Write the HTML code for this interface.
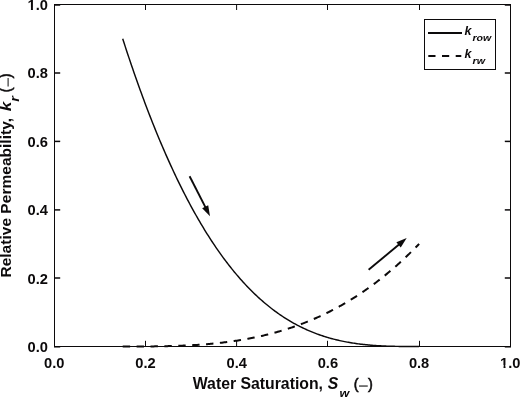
<!DOCTYPE html>
<html><head><meta charset="utf-8"><title>Relative permeability</title><style>
html,body{margin:0;padding:0;background:#fff;}
body{width:520px;height:397px;overflow:hidden;}
svg{display:block;}
text{font-family:"Liberation Sans",Arial,Helvetica,sans-serif;font-weight:bold;fill:#0c0a0b;}
text.n{font-weight:normal;stroke:#0c0a0b;stroke-width:0.55px;}
text.d{fill:#707070;}
</style></head><body>
<svg width="520" height="397" viewBox="0 0 520 397">
<rect width="520" height="397" fill="#fff"/>
<g stroke="#0c0a0b" stroke-width="1" fill="none">
<rect x="54.5" y="4.5" width="456" height="342"/>
<line x1="145.50" y1="346" x2="145.50" y2="340.8"/><line x1="145.50" y1="5" x2="145.50" y2="10"/><line x1="236.60" y1="346" x2="236.60" y2="340.8"/><line x1="236.60" y1="5" x2="236.60" y2="10"/><line x1="327.50" y1="346" x2="327.50" y2="340.8"/><line x1="327.50" y1="5" x2="327.50" y2="10"/><line x1="419.50" y1="346" x2="419.50" y2="340.8"/><line x1="419.50" y1="5" x2="419.50" y2="10"/><line x1="54" y1="5.00" x2="60.2" y2="5.00" stroke-width="1.5"/><line x1="511" y1="5.00" x2="504.8" y2="5.00" stroke-width="1.5"/><line x1="54" y1="73.00" x2="60.2" y2="73.00" stroke-width="1.5"/><line x1="511" y1="73.00" x2="504.8" y2="73.00" stroke-width="1.5"/><line x1="54" y1="141.40" x2="60.2" y2="141.40" stroke-width="1.5"/><line x1="511" y1="141.40" x2="504.8" y2="141.40" stroke-width="1.5"/><line x1="54" y1="209.90" x2="60.2" y2="209.90" stroke-width="1.5"/><line x1="511" y1="209.90" x2="504.8" y2="209.90" stroke-width="1.5"/><line x1="54" y1="278.00" x2="60.2" y2="278.00" stroke-width="1.5"/><line x1="511" y1="278.00" x2="504.8" y2="278.00" stroke-width="1.5"/><line x1="54" y1="346.80" x2="60.2" y2="346.80" stroke-width="1.5"/><line x1="511" y1="346.80" x2="504.8" y2="346.80" stroke-width="1.5"/>
</g>
<g font-size="15.5">
<text x="44.10" y="367.70" textLength="20.4" lengthAdjust="spacingAndGlyphs">0.0</text><text x="135.30" y="367.70" textLength="20.4" lengthAdjust="spacingAndGlyphs">0.2</text><text x="226.50" y="367.70" textLength="20.4" lengthAdjust="spacingAndGlyphs">0.4</text><text x="317.70" y="367.70" textLength="20.4" lengthAdjust="spacingAndGlyphs">0.6</text><text x="408.90" y="367.70" textLength="20.4" lengthAdjust="spacingAndGlyphs">0.8</text><clipPath id="c1x"><rect x="498.10" y="353.70" width="12.16" height="11.40"/><rect x="503.53" y="365.00" width="2.00" height="3.7"/></clipPath><text x="500.10" y="367.70" clip-path="url(#c1x)" textLength="8.16" lengthAdjust="spacingAndGlyphs">1</text><text x="508.26" y="367.70" textLength="12.24" lengthAdjust="spacingAndGlyphs">.0</text>
<text x="27.50" y="352.05" textLength="20.4" lengthAdjust="spacingAndGlyphs">0.0</text><text x="27.50" y="283.65" textLength="20.4" lengthAdjust="spacingAndGlyphs">0.2</text><text x="27.50" y="215.25" textLength="20.4" lengthAdjust="spacingAndGlyphs">0.4</text><text x="27.50" y="146.85" textLength="20.4" lengthAdjust="spacingAndGlyphs">0.6</text><text x="27.50" y="78.45" textLength="20.4" lengthAdjust="spacingAndGlyphs">0.8</text><clipPath id="c1y"><rect x="25.50" y="-3.95" width="12.16" height="11.40"/><rect x="30.93" y="7.35" width="2.00" height="3.7"/></clipPath><text x="27.50" y="10.05" clip-path="url(#c1y)" textLength="8.16" lengthAdjust="spacingAndGlyphs">1</text><text x="35.66" y="10.05" textLength="12.24" lengthAdjust="spacingAndGlyphs">.0</text>
</g>
<path d="M122.70,38.70 L123.94,42.55 L125.18,46.36 L126.42,50.15 L127.66,53.90 L128.90,57.62 L130.14,61.30 L131.38,64.96 L132.62,68.59 L133.86,72.18 L135.10,75.74 L136.34,79.27 L137.58,82.77 L138.82,86.24 L140.06,89.68 L141.30,93.09 L142.54,96.47 L143.78,99.82 L145.02,103.14 L146.26,106.43 L147.50,109.69 L148.74,112.92 L149.98,116.12 L151.22,119.29 L152.46,122.43 L153.70,125.54 L154.94,128.62 L156.18,131.68 L157.42,134.70 L158.66,137.70 L159.91,140.67 L161.15,143.61 L162.39,146.52 L163.63,149.40 L164.87,152.26 L166.11,155.09 L167.35,157.89 L168.59,160.66 L169.83,163.41 L171.07,166.13 L172.31,168.82 L173.55,171.49 L174.79,174.13 L176.03,176.74 L177.27,179.32 L178.51,181.88 L179.75,184.41 L180.99,186.92 L182.23,189.40 L183.47,191.86 L184.71,194.28 L185.95,196.69 L187.19,199.07 L188.43,201.42 L189.67,203.75 L190.91,206.05 L192.15,208.33 L193.39,210.58 L194.63,212.81 L195.87,215.01 L197.11,217.19 L198.35,219.34 L199.59,221.48 L200.83,223.58 L202.07,225.67 L203.31,227.73 L204.55,229.76 L205.79,231.77 L207.03,233.76 L208.27,235.73 L209.51,237.67 L210.75,239.59 L211.99,241.49 L213.23,243.37 L214.47,245.22 L215.71,247.05 L216.95,248.86 L218.19,250.64 L219.43,252.41 L220.67,254.15 L221.91,255.87 L223.15,257.57 L224.39,259.25 L225.63,260.90 L226.87,262.54 L228.11,264.16 L229.35,265.75 L230.59,267.32 L231.83,268.87 L233.07,270.41 L234.32,271.92 L235.56,273.41 L236.80,274.88 L238.04,276.33 L239.28,277.76 L240.52,279.18 L241.76,280.57 L243.00,281.94 L244.24,283.30 L245.48,284.63 L246.72,285.95 L247.96,287.25 L249.20,288.53 L250.44,289.79 L251.68,291.03 L252.92,292.25 L254.16,293.46 L255.40,294.64 L256.64,295.81 L257.88,296.97 L259.12,298.10 L260.36,299.22 L261.60,300.32 L262.84,301.40 L264.08,302.46 L265.32,303.51 L266.56,304.54 L267.80,305.56 L269.04,306.56 L270.28,307.54 L271.52,308.51 L272.76,309.46 L274.00,310.39 L275.24,311.31 L276.48,312.21 L277.72,313.10 L278.96,313.97 L280.20,314.82 L281.44,315.67 L282.68,316.49 L283.92,317.30 L285.16,318.10 L286.40,318.88 L287.64,319.65 L288.88,320.40 L290.12,321.14 L291.36,321.86 L292.60,322.57 L293.84,323.27 L295.08,323.95 L296.32,324.62 L297.56,325.28 L298.80,325.92 L300.04,326.55 L301.28,327.17 L302.52,327.77 L303.76,328.36 L305.00,328.94 L306.24,329.51 L307.48,330.06 L308.73,330.61 L309.97,331.14 L311.21,331.65 L312.45,332.16 L313.69,332.65 L314.93,333.14 L316.17,333.61 L317.41,334.07 L318.65,334.52 L319.89,334.96 L321.13,335.38 L322.37,335.80 L323.61,336.21 L324.85,336.60 L326.09,336.99 L327.33,337.36 L328.57,337.73 L329.81,338.08 L331.05,338.43 L332.29,338.77 L333.53,339.09 L334.77,339.41 L336.01,339.72 L337.25,340.02 L338.49,340.31 L339.73,340.59 L340.97,340.86 L342.21,341.13 L343.45,341.38 L344.69,341.63 L345.93,341.87 L347.17,342.10 L348.41,342.32 L349.65,342.54 L350.89,342.75 L352.13,342.95 L353.37,343.14 L354.61,343.33 L355.85,343.51 L357.09,343.68 L358.33,343.85 L359.57,344.01 L360.81,344.16 L362.05,344.31 L363.29,344.45 L364.53,344.58 L365.77,344.71 L367.01,344.83 L368.25,344.95 L369.49,345.06 L370.73,345.16 L371.97,345.26 L373.21,345.36 L374.45,345.45 L375.69,345.53 L376.93,345.61 L378.17,345.69 L379.41,345.76 L380.65,345.83 L381.89,345.89 L383.14,345.95 L384.38,346.01 L385.62,346.06 L386.86,346.10 L388.10,346.15 L389.34,346.19 L390.58,346.23 L391.82,346.26 L393.06,346.29 L394.30,346.32 L395.54,346.35 L396.78,346.37 L398.02,346.39 L399.26,346.41 L400.50,346.42 L401.74,346.44 L402.98,346.45 L404.22,346.46 L405.46,346.47 L406.70,346.48 L407.94,346.48 L409.18,346.49 L410.42,346.49 L411.66,346.50 L412.90,346.50 L414.14,346.50 L415.38,346.50 L416.62,346.50 L417.86,346.50 L419.10,346.50" fill="none" stroke="#0c0a0b" stroke-width="1.45"/>
<path d="M122.70,346.50 L123.94,346.50 L125.18,346.50 L126.42,346.50 L127.66,346.50 L128.90,346.50 L130.14,346.50 L131.38,346.50 L132.62,346.50 L133.86,346.49 L135.10,346.49 L136.34,346.49 L137.58,346.49 L138.82,346.48 L140.06,346.48 L141.30,346.47 L142.54,346.47 L143.78,346.46 L145.02,346.46 L146.26,346.45 L147.50,346.44 L148.74,346.43 L149.98,346.42 L151.22,346.41 L152.46,346.40 L153.70,346.38 L154.94,346.37 L156.18,346.35 L157.42,346.34 L158.66,346.32 L159.91,346.30 L161.15,346.28 L162.39,346.25 L163.63,346.23 L164.87,346.20 L166.11,346.18 L167.35,346.15 L168.59,346.12 L169.83,346.09 L171.07,346.05 L172.31,346.02 L173.55,345.98 L174.79,345.94 L176.03,345.90 L177.27,345.86 L178.51,345.82 L179.75,345.77 L180.99,345.72 L182.23,345.67 L183.47,345.62 L184.71,345.56 L185.95,345.50 L187.19,345.44 L188.43,345.38 L189.67,345.32 L190.91,345.25 L192.15,345.18 L193.39,345.11 L194.63,345.03 L195.87,344.96 L197.11,344.88 L198.35,344.79 L199.59,344.71 L200.83,344.62 L202.07,344.53 L203.31,344.44 L204.55,344.34 L205.79,344.24 L207.03,344.14 L208.27,344.03 L209.51,343.92 L210.75,343.81 L211.99,343.69 L213.23,343.58 L214.47,343.45 L215.71,343.33 L216.95,343.20 L218.19,343.07 L219.43,342.93 L220.67,342.79 L221.91,342.65 L223.15,342.51 L224.39,342.36 L225.63,342.20 L226.87,342.05 L228.11,341.88 L229.35,341.72 L230.59,341.55 L231.83,341.38 L233.07,341.20 L234.32,341.02 L235.56,340.84 L236.80,340.65 L238.04,340.45 L239.28,340.26 L240.52,340.06 L241.76,339.85 L243.00,339.64 L244.24,339.43 L245.48,339.21 L246.72,338.98 L247.96,338.76 L249.20,338.52 L250.44,338.29 L251.68,338.05 L252.92,337.80 L254.16,337.55 L255.40,337.29 L256.64,337.03 L257.88,336.77 L259.12,336.50 L260.36,336.22 L261.60,335.94 L262.84,335.66 L264.08,335.37 L265.32,335.07 L266.56,334.77 L267.80,334.46 L269.04,334.15 L270.28,333.84 L271.52,333.51 L272.76,333.19 L274.00,332.85 L275.24,332.51 L276.48,332.17 L277.72,331.82 L278.96,331.47 L280.20,331.11 L281.44,330.74 L282.68,330.37 L283.92,329.99 L285.16,329.60 L286.40,329.21 L287.64,328.82 L288.88,328.42 L290.12,328.01 L291.36,327.60 L292.60,327.18 L293.84,326.75 L295.08,326.32 L296.32,325.88 L297.56,325.43 L298.80,324.98 L300.04,324.52 L301.28,324.06 L302.52,323.59 L303.76,323.11 L305.00,322.63 L306.24,322.14 L307.48,321.64 L308.73,321.14 L309.97,320.62 L311.21,320.11 L312.45,319.58 L313.69,319.05 L314.93,318.51 L316.17,317.97 L317.41,317.42 L318.65,316.86 L319.89,316.29 L321.13,315.72 L322.37,315.14 L323.61,314.55 L324.85,313.95 L326.09,313.35 L327.33,312.74 L328.57,312.12 L329.81,311.50 L331.05,310.86 L332.29,310.22 L333.53,309.58 L334.77,308.92 L336.01,308.26 L337.25,307.59 L338.49,306.91 L339.73,306.22 L340.97,305.53 L342.21,304.83 L343.45,304.11 L344.69,303.40 L345.93,302.67 L347.17,301.94 L348.41,301.19 L349.65,300.44 L350.89,299.68 L352.13,298.92 L353.37,298.14 L354.61,297.36 L355.85,296.56 L357.09,295.76 L358.33,294.95 L359.57,294.13 L360.81,293.31 L362.05,292.47 L363.29,291.63 L364.53,290.77 L365.77,289.91 L367.01,289.04 L368.25,288.16 L369.49,287.27 L370.73,286.38 L371.97,285.47 L373.21,284.55 L374.45,283.63 L375.69,282.70 L376.93,281.75 L378.17,280.80 L379.41,279.84 L380.65,278.87 L381.89,277.89 L383.14,276.90 L384.38,275.90 L385.62,274.89 L386.86,273.87 L388.10,272.85 L389.34,271.81 L390.58,270.76 L391.82,269.71 L393.06,268.64 L394.30,267.56 L395.54,266.48 L396.78,265.38 L398.02,264.27 L399.26,263.16 L400.50,262.03 L401.74,260.89 L402.98,259.75 L404.22,258.59 L405.46,257.42 L406.70,256.25 L407.94,255.06 L409.18,253.86 L410.42,252.65 L411.66,251.43 L412.90,250.21 L414.14,248.97 L415.38,247.72 L416.62,246.45 L417.86,245.18 L419.10,243.90" fill="none" stroke="#0c0a0b" stroke-width="2" stroke-dasharray="7.4 6.5"/>
<line x1="189.6" y1="176.2" x2="205.64" y2="207.65" stroke="#0c0a0b" stroke-width="1.9"/><polygon points="210.0,216.2 202.16,208.30 208.21,205.21" fill="#0c0a0b"/>
<line x1="368.6" y1="269.8" x2="399.32" y2="244.24" stroke="#0c0a0b" stroke-width="1.9"/><polygon points="406.7,238.1 400.73,247.49 396.38,242.27" fill="#0c0a0b"/>
<rect x="424.5" y="19.5" width="71" height="50" fill="#fff" stroke="#0c0a0b" stroke-width="1"/>
<line x1="428" y1="33" x2="462" y2="33" stroke="#0c0a0b" stroke-width="2"/>
<line x1="428.3" y1="56" x2="461.3" y2="56" stroke="#0c0a0b" stroke-width="2" stroke-dasharray="7.2 6.5"/>
<text x="464.55" y="34.8" font-size="12.5" font-style="italic">k</text>
<text x="472.5" y="40.9" font-size="9.6" font-style="italic" textLength="18.8" lengthAdjust="spacingAndGlyphs">row</text>
<text x="464.55" y="58.2" font-size="12.5" font-style="italic">k</text>
<text x="472.5" y="64.3" font-size="9.6" font-style="italic" textLength="12.5" lengthAdjust="spacingAndGlyphs">rw</text>
<g font-size="15.8">
<text x="192.8" y="388.8">Water Saturation,</text>
<text x="327.8" y="388.8" font-style="italic">S</text>
<text x="339.4" y="396.8" font-size="11" font-style="italic" textLength="9.8" lengthAdjust="spacingAndGlyphs">w</text>
<text class="n" x="353.7" y="388.6" font-size="14.6">(</text>
<text class="d" x="358.4" y="391.1" font-size="17.6">–</text>
<text class="n" x="368.1" y="388.6" font-size="14.6">)</text>
</g>
<g font-size="15.6" transform="translate(10.8,276.5) rotate(-90)">
<text x="-1.1" y="0" font-size="14.2" textLength="159.6" lengthAdjust="spacingAndGlyphs">Relative Permeability,</text>
<text x="165.2" y="0" font-size="15" font-style="italic" textLength="9.6" lengthAdjust="spacingAndGlyphs">k</text>
<text x="174.8" y="8" font-size="12" font-style="italic" textLength="5.6" lengthAdjust="spacingAndGlyphs">r</text>
<text class="n" x="184" y="0">(</text>
<text class="d" x="189.4" y="1.7" font-size="17">–</text>
<text class="n" x="198.05" y="0">)</text>
</g>
</svg>
</body></html>
